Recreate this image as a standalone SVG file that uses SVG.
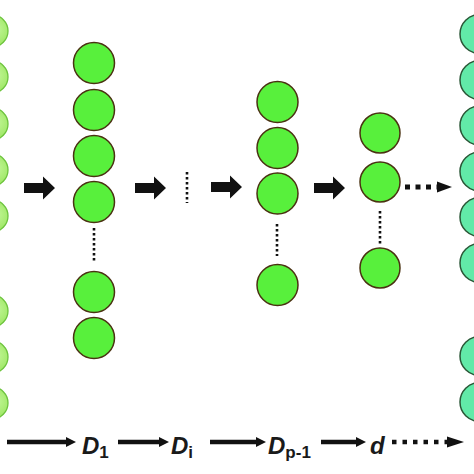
<svg xmlns="http://www.w3.org/2000/svg" width="474" height="474" viewBox="0 0 474 474">
<style>
.in{fill:url(#gIn);stroke:#6cc33c;stroke-width:1.3}
.hid{fill:#58f03c;stroke:#4a3212;stroke-width:1.5}
.out{fill:#62eaa8;stroke:#2a5636;stroke-width:1.5}
.dots{stroke:#111;stroke-width:2.6;stroke-dasharray:2.4 2.6;fill:none}
.line{stroke:#111;stroke-width:4.6;fill:none}
.lab{font-family:"Liberation Sans",Arial,sans-serif;font-weight:bold;fill:#1a1a1a}
.it{font-style:italic;font-size:24px}
.sub{font-size:17px}
</style>
<defs>
<radialGradient id="gIn" cx="0.6" cy="0.45" r="0.7">
<stop offset="0" stop-color="#c4f79a"/>
<stop offset="1" stop-color="#8fe150"/>
</radialGradient>
<path id="blk" d="M0,-5 H19 V-11.5 L31,0 L19,11.5 V5 H0 Z" fill="#111"/>
<marker id="tri" viewBox="0 0 10 10" refX="0" refY="5" markerWidth="10" markerHeight="12" markerUnits="userSpaceOnUse" orient="auto">
<path d="M0,0 L10,5 L0,10 Z" fill="#111"/>
</marker>
</defs>
<rect width="474" height="474" fill="#fff"/>

<g id="input-layer">
<circle class="in" cx="-8" cy="31" r="16"/>
<circle class="in" cx="-8" cy="77" r="16"/>
<circle class="in" cx="-8" cy="124" r="16"/>
<circle class="in" cx="-8" cy="170" r="16"/>
<circle class="in" cx="-8" cy="216" r="16"/>
<circle class="in" cx="-8" cy="311" r="16"/>
<circle class="in" cx="-8" cy="357" r="16"/>
<circle class="in" cx="-8" cy="403" r="16"/>
</g>

<g id="layer-D1">
<circle class="hid" cx="94" cy="63" r="20.5"/>
<circle class="hid" cx="94" cy="110" r="20.5"/>
<circle class="hid" cx="94" cy="156" r="20.5"/>
<circle class="hid" cx="94" cy="202" r="20.5"/>
<line class="dots" x1="94" y1="228" x2="94" y2="263"/>
<circle class="hid" cx="94" cy="292" r="20.5"/>
<circle class="hid" cx="94" cy="338" r="20.5"/>
</g>

<g id="layer-Di">
<line class="dots" x1="187" y1="172" x2="187" y2="203"/>
</g>

<g id="layer-Dp-1">
<circle class="hid" cx="277.5" cy="102" r="20.5"/>
<circle class="hid" cx="277.5" cy="148" r="20.5"/>
<circle class="hid" cx="277.5" cy="193.5" r="20.5"/>
<line class="dots" x1="277" y1="224" x2="277" y2="256"/>
<circle class="hid" cx="277.5" cy="285" r="20.5"/>
</g>

<g id="layer-d">
<circle class="hid" cx="380" cy="133" r="20"/>
<circle class="hid" cx="380" cy="182" r="20"/>
<line class="dots" x1="380" y1="211" x2="380" y2="244"/>
<circle class="hid" cx="380" cy="268" r="20"/>
</g>

<g id="output-layer">
<circle class="out" cx="479.5" cy="34" r="19.5"/>
<circle class="out" cx="479.5" cy="80" r="19.5"/>
<circle class="out" cx="479.5" cy="125.5" r="19.5"/>
<circle class="out" cx="479.5" cy="171.5" r="19.5"/>
<circle class="out" cx="479.5" cy="217" r="19.5"/>
<circle class="out" cx="479.5" cy="263" r="19.5"/>
<circle class="out" cx="479.5" cy="356" r="19.5"/>
<circle class="out" cx="479.5" cy="402" r="19.5"/>
</g>

<g id="connectors">
<use href="#blk" x="24" y="188"/>
<use href="#blk" x="135" y="188"/>
<use href="#blk" x="211" y="187"/>
<use href="#blk" x="314" y="188"/>
<line x1="405" y1="187" x2="437" y2="187" stroke="#111" stroke-width="5" stroke-dasharray="5 5.5"/>
<path d="M437,181.5 L452,187 L437,192.5 Z" fill="#111"/>
<line class="line" x1="7" y1="442" x2="66" y2="442" marker-end="url(#tri)"/>
<line class="line" x1="118" y1="442" x2="159" y2="442" marker-end="url(#tri)"/>
<line class="line" x1="210" y1="442" x2="256" y2="442" marker-end="url(#tri)"/>
<line class="line" x1="321" y1="442" x2="356" y2="442" marker-end="url(#tri)"/>
<line x1="392" y1="442" x2="447" y2="442" stroke="#111" stroke-width="4.5" stroke-dasharray="4.5 6"/>
<path d="M447,436.5 L464,442 L447,447.5 Z" fill="#111"/>
</g>

<g id="labels">
<text class="lab" x="82" y="454"><tspan class="it">D</tspan><tspan class="sub" dy="4">1</tspan></text>
<text class="lab" x="171" y="454"><tspan class="it">D</tspan><tspan class="sub" dy="4">i</tspan></text>
<text class="lab" x="268" y="454"><tspan class="it">D</tspan><tspan class="sub" dy="4">p-1</tspan></text>
<text class="lab it" x="370" y="454">d</text>
</g>
</svg>
